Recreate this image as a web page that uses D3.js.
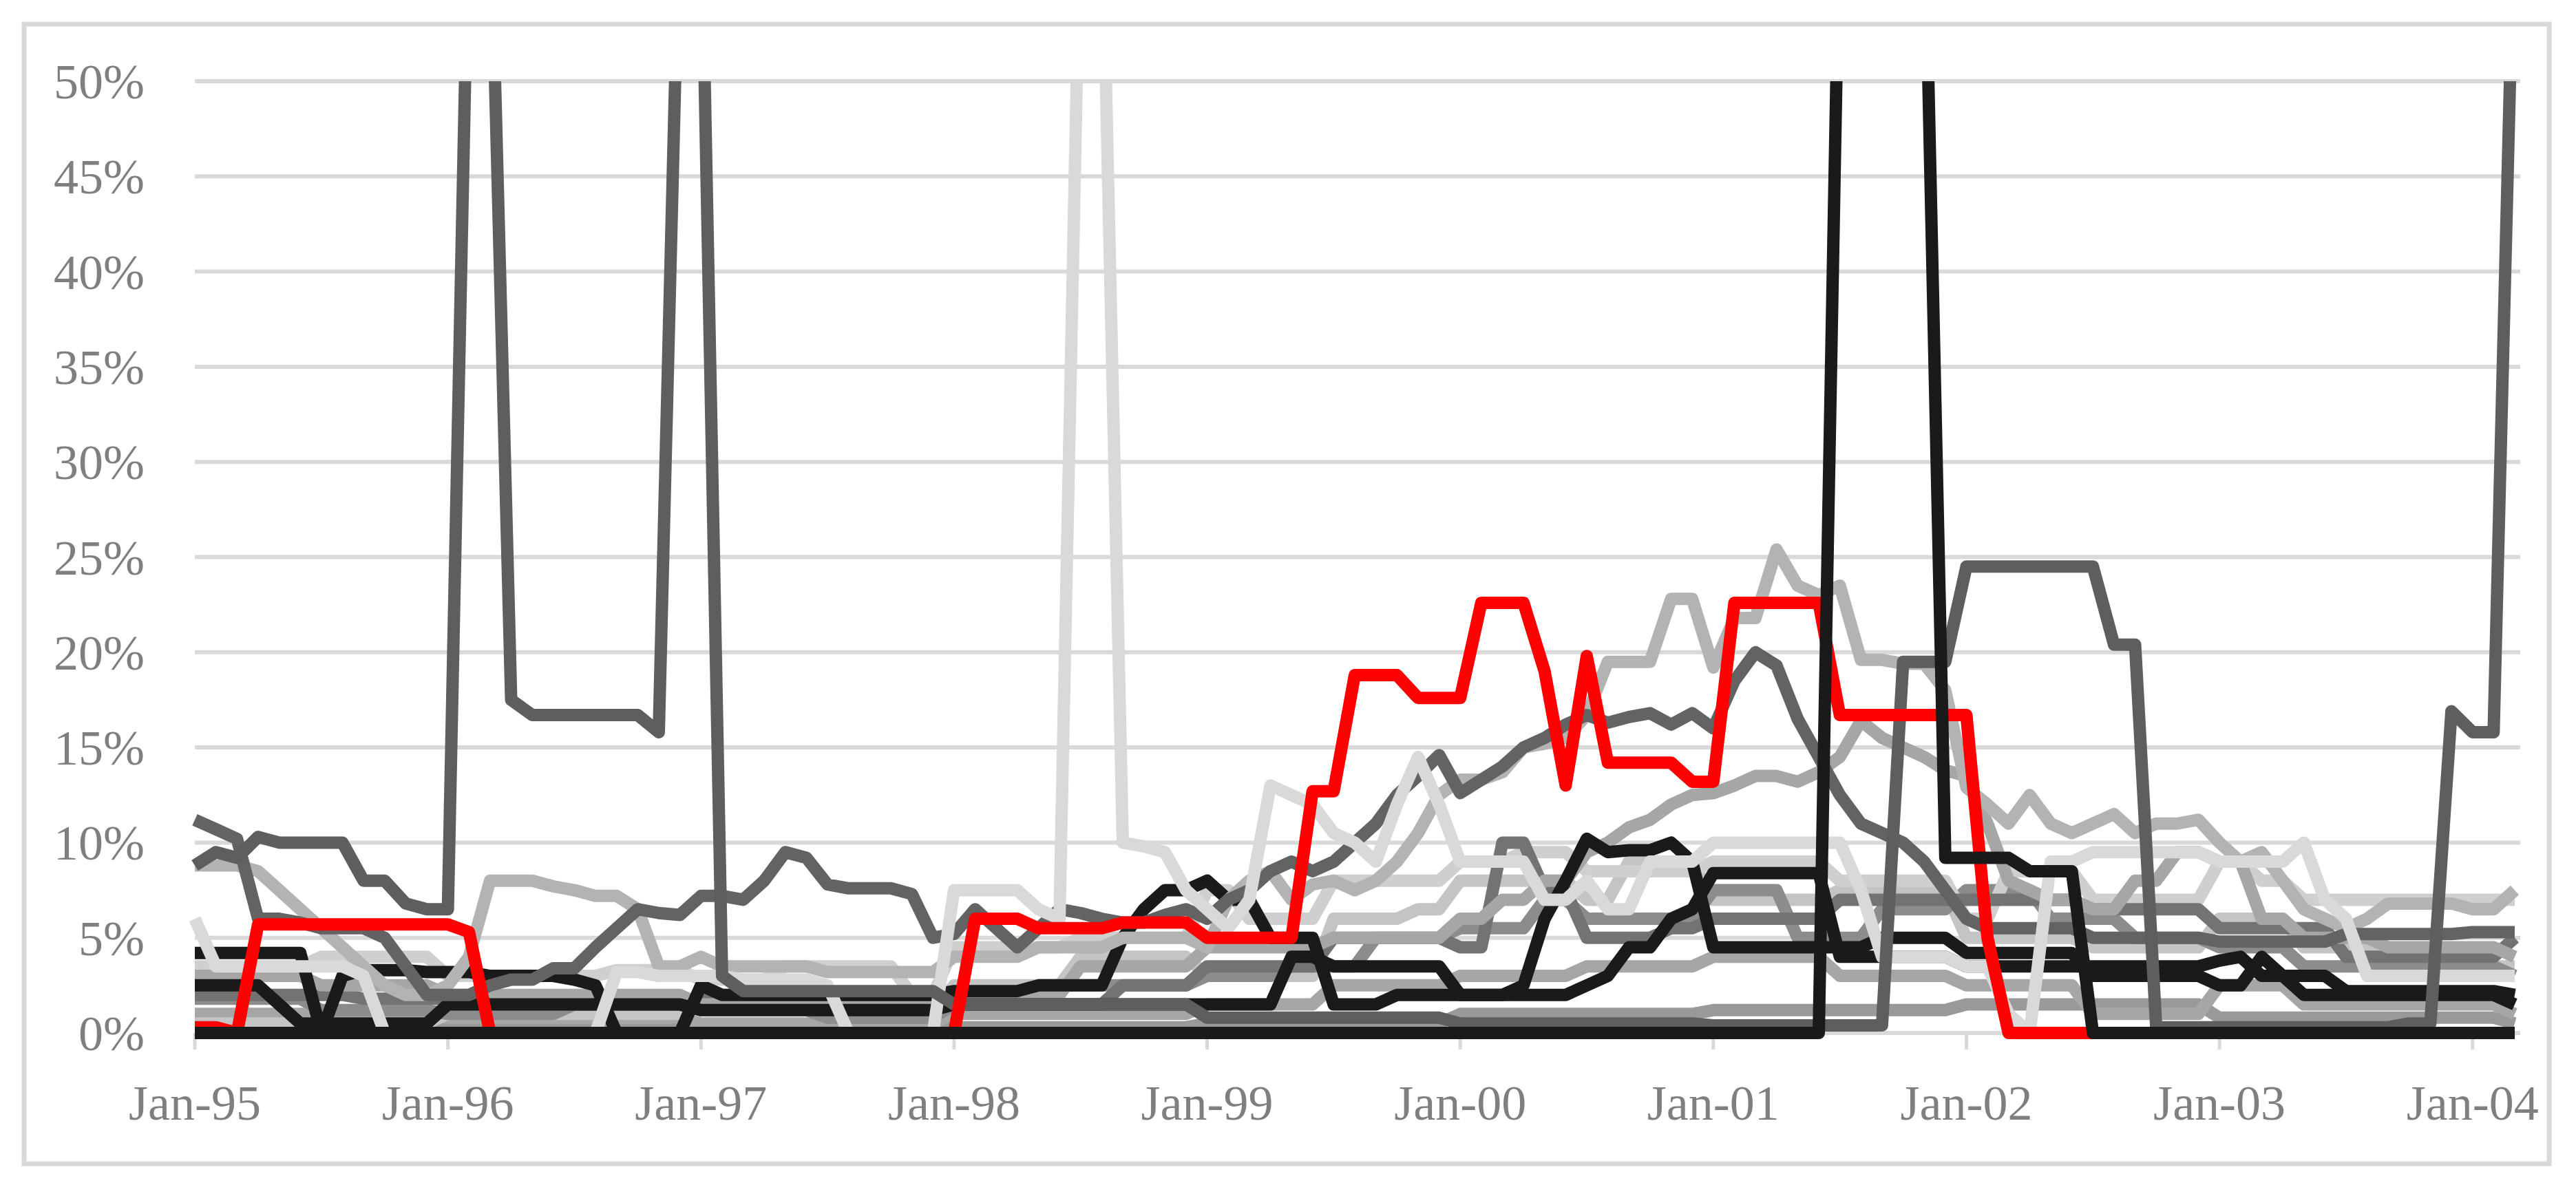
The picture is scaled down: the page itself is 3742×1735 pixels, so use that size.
<!DOCTYPE html>
<html>
<head>
<meta charset="utf-8">
<script src="https://cdn.jsdelivr.net/npm/d3@7"></script>
<style>
  body { margin: 0; background: #fff; }
  text { font-family: "Liberation Serif", "DejaVu Serif", serif; fill: #7f7f7f; }
</style>
</head>
<body>
<div id="chart"></div>
<script>
// months counted from Jan-95 (0) to Mar-04 (110); each series is a list of [month, value%] steps
const nMonths = 111
const tickMonths = [0, 12, 24, 36, 48, 60, 72, 84, 96, 108]
const tickLabels = ["Jan-95", "Jan-96", "Jan-97", "Jan-98", "Jan-99", "Jan-00", "Jan-01", "Jan-02", "Jan-03", "Jan-04"]
const yTicks = [0, 5, 10, 15, 20, 25, 30, 35, 40, 45, 50]

const sM6 = [[0,0.2],[24,0.3],[48,0.5],[60,1],[72,1.2],[84,1.5],[96,0.8],[110,0.5]]
const sM3 = [[0,1],[12,0.8],[24,0.5],[36,1],[48,1.5],[54,2.5],[60,3],[66,3.5],[72,4],[78,3],[84,2.5],[90,1],[96,2.5],[100,1.5],[110,1]]
const sM5 = [[0,0.5],[12,1],[24,2],[30,1],[36,2.5],[42,4],[48,3],[54,6],[58,6.5],[60,8],[66,7],[68,9],[72,7],[78,7.5],[84,5],[90,4.5],[96,6],[100,4.5],[104,3.5],[110,3.5]]
const sM2 = [[0,1.8],[6,1.2],[12,1],[18,1.5],[24,1.2],[30,0.8],[36,1.5],[40,2.5],[48,3],[52,3.5],[56,5],[60,5.5],[64,7],[66,6],[72,7.5],[76,5],[80,6.5],[84,7.5],[88,6],[92,5],[96,4.5],[100,3.5],[110,3]]
const sM1 = [[0,3.5],[6,4],[12,3],[20,3.3],[24,2.8],[28,3.5],[34,2],[36,4.5],[42,5],[48,7.5],[50,6],[54,8],[60,9],[63,9.5],[66,8.5],[72,9],[78,8],[84,6],[86,8.5],[90,7],[96,9],[98,8],[100,7],[110,7]]
const sM4 = [[0,2],[8,1.8],[16,1.5],[24,1.8],[36,1.5],[44,2.5],[48,3.5],[54,5],[60,4.5],[62,10],[64,7.5],[66,5],[70,5.5],[72,6],[78,7],[84,7],[90,6.5],[96,5.5],[102,4],[110,5]]
const sGrayB = [[0,3],[6,2.5],[12,2],[24,1.5],[36,2],[42,3.5],[48,4.5],[54,5],[60,6],[62,7],[64,8],[66,9.5],[67,10],[68,10.8],[69,11.2],[70,12],[71,12.5],[72,12.6],[73,13],[74,13.5],[76,13.2],[77,13.7],[78,14.5],[79,16.4],[80,15.5],[81,15],[82,14.5],[83,13.8],[84,13.5],[85,11],[86,8],[87,7.5],[88,7],[90,6.5],[92,8],[94,9.5],[96,9],[98,6],[100,5],[104,4.5],[110,4]]
const sBlack3 = [[0,2.5],[4,1.5],[5,0.5],[12,1.5],[24,1.2],[36,1.5],[52,4],[54,3.5],[60,2],[66,2.5],[67,3],[68,4.5],[70,6],[71,6.5],[72,8.4],[78,4],[84,3.5],[96,3.8],[97,4],[98,3],[102,2.2],[110,2]]
const sBlack2 = [[0,4.2],[6,0],[7,3],[8,3.3],[11,3.2],[14,3],[18,2.8],[19,2.5],[20,0],[24,2.5],[25,2],[36,2.2],[40,2.5],[44,5],[45,6.5],[46,7.5],[48,8],[49,7],[51,5],[54,1.5],[57,2],[63,2.5],[64,6],[65,8],[66,10.2],[67,9.5],[68,9.6],[70,10],[71,9],[72,4.5],[80,5],[84,4.2],[90,3],[96,2.5],[98,4],[99,3],[100,2],[110,1.5]]
const sGrayA = [[0,8.8],[3,8.5],[4,7.5],[5,6.5],[6,5.5],[7,4.5],[8,3.5],[9,2.5],[10,2],[12,2.5],[13,4],[14,8],[17,7.7],[18,7.5],[19,7.2],[21,6.5],[22,3.5],[24,4],[25,3.5],[30,3.2],[36,4],[40,4.5],[44,5],[48,4.5],[49,7],[50,8],[51,8.5],[52,7],[53,7.8],[54,8],[55,7.5],[56,8],[57,9],[58,10.5],[59,12.5],[60,13.3],[62,13.7],[63,15],[64,15.2],[65,15.5],[66,16.7],[67,19.5],[70,22.8],[72,19.2],[73,21.8],[75,25.4],[76,23.5],[77,23],[78,23.5],[79,19.6],[81,19.4],[83,18],[84,12.9],[85,12],[86,11],[87,12.5],[88,11],[89,10.5],[90,11],[91,11.5],[92,10.5],[93,11],[95,11.2],[96,10],[97,9],[98,9.5],[99,8],[100,6.5],[101,6],[102,5.5],[103,6],[104,6.8],[108,6.5],[110,7.5]]
const sDark2 = [[0,11.2],[1,10.7],[2,10.2],[3,6],[5,5.8],[6,5.5],[9,5],[10,3.5],[11,2],[14,2.5],[15,2.8],[17,3.4],[19,4.5],[20,5.5],[21,6.5],[22,6.3],[23,6.2],[24,7.2],[26,7],[27,8],[28,9.5],[29,9.2],[30,7.8],[31,7.6],[34,7.3],[35,5],[36,5.2],[37,6.5],[38,5.5],[39,4.5],[40,5.5],[41,6.5],[42,6.3],[43,6],[44,5.8],[46,6.2],[47,6.5],[48,6],[49,7],[50,7.5],[51,8.5],[52,9],[53,8.5],[54,9],[55,10],[56,11],[57,12.5],[58,13.5],[59,14.6],[60,12.6],[61,13.3],[62,14],[63,15],[64,15.5],[65,16.2],[66,16.7],[67,16.3],[68,16.6],[69,16.8],[70,16.2],[71,16.8],[72,16],[73,18.5],[74,20],[75,19.3],[76,16.5],[77,14.5],[78,12.5],[79,11],[80,10.5],[81,10],[82,9],[83,7.5],[84,6],[85,5.5],[90,5],[96,4.8],[102,5.2],[108,5.3]]
const sLight = [[0,6],[1,3.5],[8,3],[9,0],[20,3.2],[22,3],[26,2.8],[30,2.5],[31,0],[36,7.5],[40,6.5],[41,6],[42,60],[44,10],[45,9.8],[46,9.5],[47,7.5],[48,6.5],[49,5.5],[50,7],[51,13],[52,12.5],[53,12],[54,10.5],[55,10],[56,9],[57,12],[58,14.5],[59,12],[60,9],[64,7],[66,8],[67,6.5],[69,9],[72,10],[79,7.5],[80,4],[84,3.5],[86,1],[87,0],[88,9],[90,9.5],[96,9],[100,10],[101,7],[102,6],[103,3],[110,3]]
const sBig = [[0,8.8],[1,9.5],[2,9.2],[3,10.3],[4,10],[8,8],[10,6.8],[11,6.5],[12,6.5],[13,60],[15,17.5],[16,16.7],[22,15.8],[23,60],[25,3],[26,2.2],[36,1.5],[48,0.8],[60,0.5],[72,0.4],[81,19.5],[84,24.5],[91,20.4],[93,0.3],[105,0.5],[107,16.9],[108,15.8],[110,60]]
const sRed = [[0,0.3],[2,0],[3,5.7],[13,5.3],[14,0],[37,6],[40,5.5],[44,5.8],[48,5],[53,12.7],[55,18.8],[58,17.6],[61,22.6],[64,19],[65,13],[66,19.8],[67,14.2],[71,13.2],[73,22.6],[78,16.7],[85,5],[86,0]]
const sBlack1 = [[0,0],[78,60],[83,9.2],[87,8.5],[90,0]]

const seriesList = [
  { steps: sM6, color: "#999999" },
  { steps: sM3, color: "#a6a6a6" },
  { steps: sM5, color: "#c4c4c4" },
  { steps: sM2, color: "#8c8c8c" },
  { steps: sM1, color: "#cfcfcf" },
  { steps: sM4, color: "#737373" },
  { steps: sGrayB, color: "#a6a6a6" },
  { steps: sBlack3, color: "#1a1a1a" },
  { steps: sBlack2, color: "#1a1a1a" },
  { steps: sGrayA, color: "#b3b3b3" },
  { steps: sDark2, color: "#636363" },
  { steps: sLight, color: "#d9d9d9" },
  { steps: sBig, color: "#5e5e5e" },
  { steps: sRed, color: "#ff0000" },
  { steps: sBlack1, color: "#1a1a1a" }
]

function expand(steps) {
  const out = []
  let k = 0
  for (let m = 0; m < nMonths; m++) {
    while (k + 1 < steps.length && steps[k + 1][0] <= m) k++
    out.push({ m: m, v: steps[k][1] })
  }
  return out
}

const wSvg = 3742,
  hSvg = 1735,
  plotLeft = 283,
  plotRight = 3653,
  plotTop = 118,
  plotBottom = 1501

const svg = d3.select("#chart").append("svg")
  .attr("width", wSvg)
  .attr("height", hSvg)

svg.append("rect")
  .attr("x", 35).attr("y", 35)
  .attr("width", 3668).attr("height", 1656)
  .attr("fill", "none")
  .attr("stroke", "#d9d9d9")
  .attr("stroke-width", 7)

const x = d3.scaleLinear().domain([0, 110]).range([plotLeft, plotRight])
const y = d3.scaleLinear().domain([0, 50]).range([plotBottom, plotTop])

// gridlines
svg.append("g").selectAll("line").data(yTicks).join("line")
  .attr("x1", plotLeft).attr("x2", plotRight + 8)
  .attr("y1", d => y(d)).attr("y2", d => y(d))
  .attr("stroke", "#d9d9d9").attr("stroke-width", 6)

svg.append("g").selectAll("text").data(yTicks).join("text")
  .attr("x", 210).attr("y", d => y(d) + 25)
  .attr("text-anchor", "end")
  .attr("font-size", 72)
  .text(d => d + "%")

// x ticks and labels
svg.append("g").selectAll("line").data(tickMonths).join("line")
  .attr("x1", d => x(d)).attr("x2", d => x(d))
  .attr("y1", plotBottom).attr("y2", plotBottom + 24)
  .attr("stroke", "#d9d9d9").attr("stroke-width", 5)

svg.append("g").selectAll("text").data(tickMonths).join("text")
  .attr("x", d => x(d)).attr("y", 1627)
  .attr("text-anchor", "middle")
  .attr("font-size", 72)
  .text((d, i) => tickLabels[i])

svg.append("clipPath").attr("id", "plotClip")
  .append("rect")
  .attr("x", 0).attr("y", plotTop)
  .attr("width", wSvg).attr("height", hSvg - plotTop)

const line = d3.line().x(d => x(d.m)).y(d => y(d.v))

svg.append("g").attr("clip-path", "url(#plotClip)")
  .selectAll("path").data(seriesList).join("path")
  .attr("d", d => line(expand(d.steps)))
  .attr("fill", "none")
  .attr("stroke", d => d.color)
  .attr("stroke-width", 18)
  .attr("stroke-linejoin", "round")
</script>
</body>
</html>
